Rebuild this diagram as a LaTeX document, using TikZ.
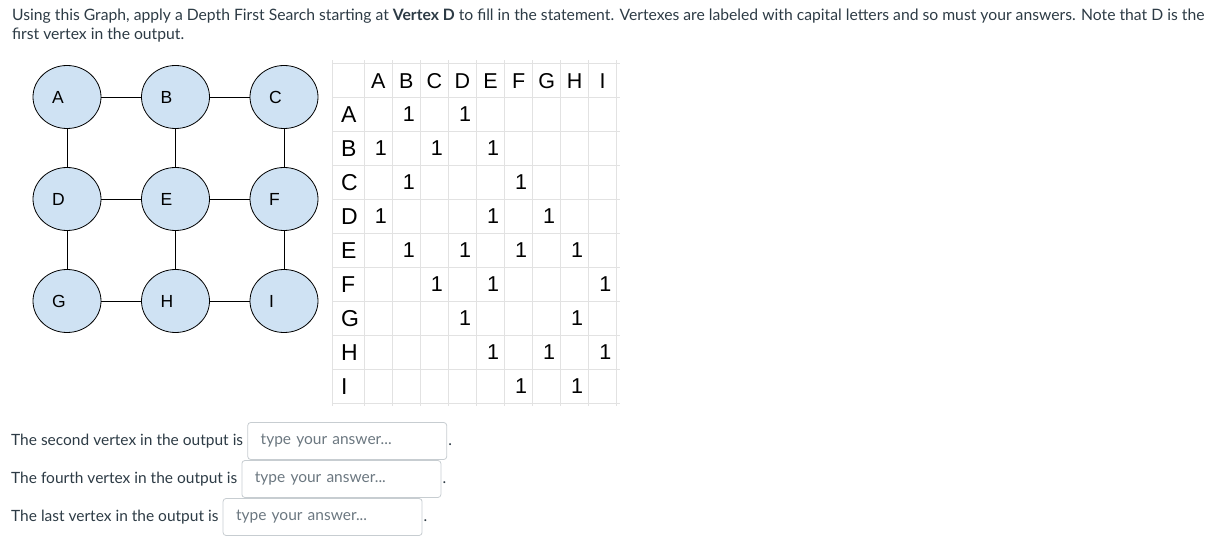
\documentclass[tikz,border=0pt]{standalone}
\usepackage{fontspec}
\setmainfont{Lato}
\newfontfamily\arialfont{Liberation Sans}
\usetikzlibrary{shapes,positioning}
\definecolor{vfill}{HTML}{CFE2F3}
\definecolor{inktext}{HTML}{2D3B45}
\definecolor{gridgray}{HTML}{E2E2E2}
\definecolor{boxgray}{HTML}{C7CDD1}
\definecolor{hintgray}{HTML}{6B7780}

\begin{document}
\begin{tikzpicture}[node distance=102pt and 108.5pt,on grid,
  vertex/.style={ellipse,draw,line width=0.8pt,fill=vfill,minimum width=68pt,minimum height=63pt,
    inner sep=0pt,text width=30pt,align=left,font=\arialfont\fontsize{17.5}{17.5}\selectfont},
  hdr/.style={inner sep=0pt,font=\arialfont\fontsize{21.5}{21.5}\selectfont},
  rowlab/.style={anchor=west,inner sep=0pt,font=\arialfont\fontsize{23}{23}\selectfont},
  one/.style={inner sep=0pt,font=\arialfont\fontsize{21.5}{21.5}\selectfont},
  stmt/.style={anchor=west,inner sep=0pt,text=inktext,font=\fontsize{15.5}{15.5}\selectfont},
  ansbox/.style={anchor=west,draw=boxgray,line width=0.8pt,rounded corners=3pt,minimum width=199pt,
    minimum height=37pt,inner sep=0pt,text width=173pt,align=left,text=hintgray,
    font=\fontsize{15.5}{15.5}\selectfont}]

  \useasboundingbox (0,0) rectangle (1218pt,-553pt);

  % statement
  \node[anchor=north west,inner sep=0pt,align=left,text=inktext,font=\fontsize{15.7}{19}\selectfont]
    (title) at (12pt,-9pt)
    {Using this Graph, apply a Depth First Search starting at \textbf{Vertex D} to fill in the statement. Vertexes are labeled with capital letters and so must your answers. Note that D is the\\
     first vertex in the output.};

  % the graph
  \node[vertex] (A) at (67pt,-97pt) {A};
  \node[vertex] (B) [right=of A] {B};
  \node[vertex] (C) [right=of B] {C};
  \node[vertex] (D) [below=of A] {D};
  \node[vertex] (E) [right=of D] {E};
  \node[vertex] (F) [right=of E] {F};
  \node[vertex] (G) [below=of D] {G};
  \node[vertex] (H) [right=of G] {H};
  \node[vertex] (I) [right=of H] {I};

  \path[draw,line width=0.8pt]
     (A) edge (B)
         edge (D)
     (B) edge (C)
         edge (E)
     (C) edge (F)
     (D) edge (E)
         edge (G)
     (E) edge (F)
         edge (H)
     (F) edge (I)
     (G) edge (H)
     (H) edge (I);

  % adjacency matrix
  \foreach \i in {0,...,9}
    \draw[gridgray,line width=0.8pt] ({364.3pt+\i*28.05pt},-60pt) -- ++(0,-346pt);
  \draw[gridgray,line width=0.8pt] (332pt,-60pt) -- ++(0,-346pt);
  \foreach \j in {0,...,10}
    \draw[gridgray,line width=0.8pt] (332pt,{-63.3pt-\j*34pt}) -- ++(288pt,0);

  \foreach \c [count=\i] in {A,B,C,D,E,F,G,H,I} {
    \node[hdr] (h\c) at ({364.3pt+(\i-0.5)*28.05pt},-81pt) {\c};
    \node[rowlab] (r\c) at (341pt,{-63.3pt-(\i+0.5)*34pt}) {\c};
  }
  \foreach \r/\c in {A/B,A/D,B/A,B/C,B/E,C/B,C/F,D/A,D/E,D/G,E/B,E/D,E/F,E/H,
                     F/C,F/E,F/I,G/D,G/H,H/E,H/G,H/I,I/F,I/H}
    \node[one] (m\r\c) at ([xshift=2.5pt]h\c |- r\r) {1};

  % questions
  \node[stmt] (q1) at (11pt,-441pt) {The second vertex in the output is};
  \node[ansbox] (a1) at ([xshift=4pt]q1.east) {type your answer...};
  \node[stmt,anchor=base west] (p1) at ([xshift=1pt]a1.east |- q1.base) {.};

  \node[stmt] (q2) at (11pt,-479pt) {The fourth vertex in the output is};
  \node[ansbox] (a2) at ([xshift=4pt]q2.east) {type your answer...};
  \node[stmt,anchor=base west] (p2) at ([xshift=1pt]a2.east |- q2.base) {.};

  \node[stmt] (q3) at (11pt,-517pt) {The last vertex in the output is};
  \node[ansbox] (a3) at ([xshift=4pt]q3.east) {type your answer...};
  \node[stmt,anchor=base west] (p3) at ([xshift=1pt]a3.east |- q3.base) {.};
\end{tikzpicture}
\end{document}
